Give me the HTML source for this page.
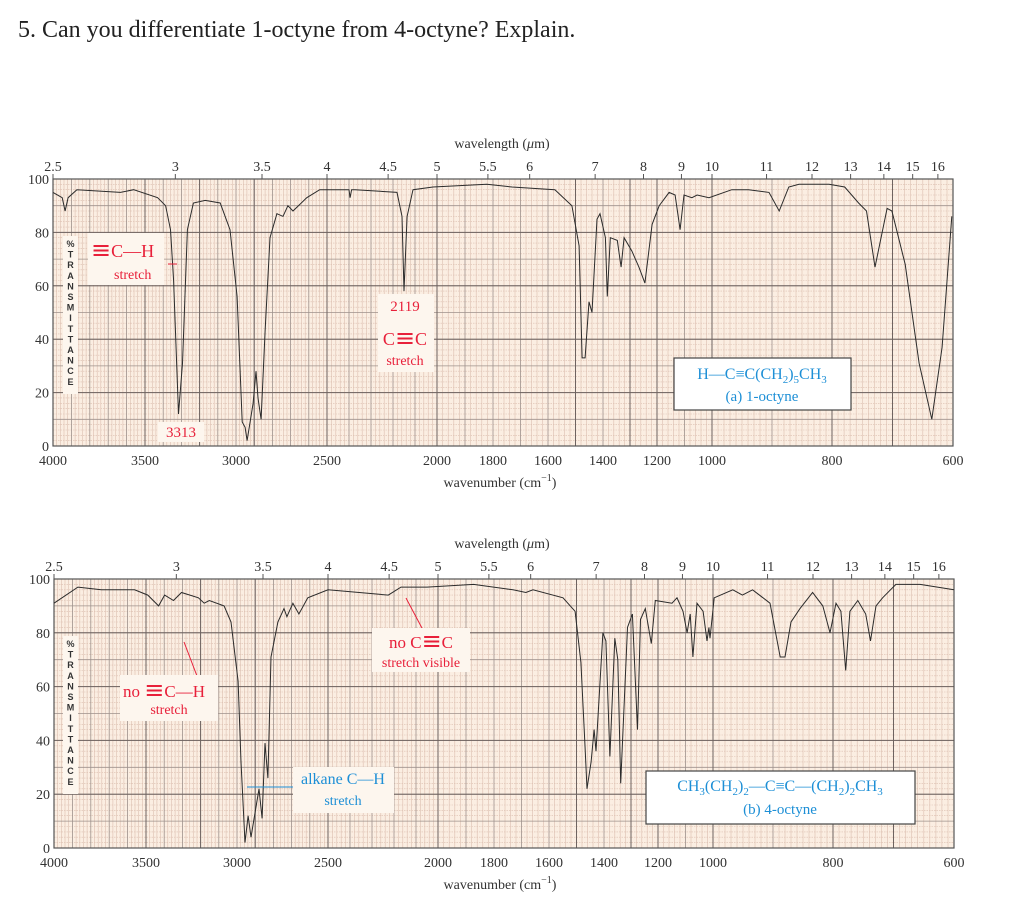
<!DOCTYPE html>
<html><head><meta charset="utf-8">
<style>
html,body{margin:0;padding:0;background:#fff;}
svg{display:block;font-family:"Liberation Serif",serif;}
</style></head>
<body>
<svg id="fig" width="1024" height="900" viewBox="0 0 1024 900" xmlns="http://www.w3.org/2000/svg">
<text x="18" y="37" font-size="24" fill="#222">5. Can you differentiate 1-octyne from 4-octyne? Explain.</text>
<g id="chartA"></g>
<g id="chartB"></g>
</svg>
<script>
// ---- data ----
const wnTicks = [4000,3500,3000,2500,2000,1800,1600,1400,1200,1000,800,600];
const wlTicks = [2.5,3,3.5,4,4.5,5,5.5,6,7,8,9,10,11,12,13,14,15,16];
const tTicks = [0,20,40,60,80,100];

const octyne1Wn = [4000,3950,3934,3918,3870,3633,3562,3431,3387,3360,3343,3316,3294,3267,3234,3169,3087,3033,2994,2966,2950,2939,2906,2890,2879,2862,2840,2813,2775,2742,2715,2687,2611,2540,2400,2395,2388,2372,2182,2159,2150,2136,2109,2018,1822,1731,1575,1513,1487,1476,1465,1451,1440,1422,1411,1391,1384,1373,1347,1333,1322,1293,1267,1245,1218,1192,1156,1134,1116,1102,1073,1054,1011,967,939,905,888,872,855,805,779,756,743,729,709,701,679,656,635,618,602];
const octyne1T  = [95,93,88,93,96,95,96,93,90,81,62,12,31,81,91,92,91,81,56,9,7,2,16,28,18,10,43,78,87,86,90,88,93,96,96,93,96,96,95,86,58,86,96,97,98,97,96,90,75,33,33,54,50,85,87,78,56,78,77,67,78,73,67,61,83,90,95,94,81,94,93,94,93,96,96,95,88,97,98,98,97,91,88,67,89,88,68,31,10,37,86];

const octyne4Wn = [4000,3870,3743,3562,3490,3431,3398,3349,3305,3212,3180,3152,3071,3033,2994,2978,2956,2939,2923,2901,2879,2862,2846,2830,2813,2775,2742,2726,2693,2660,2611,2500,2226,2168,2050,1873,1731,1684,1658,1549,1505,1484,1469,1462,1447,1436,1429,1404,1393,1378,1360,1349,1338,1313,1295,1276,1265,1247,1225,1210,1149,1131,1109,1094,1083,1073,1058,1036,1022,1015,1011,998,967,951,934,905,888,880,870,855,834,817,805,795,787,779,772,759,746,738,729,718,696,656,600];
const octyne4T  = [91,97,96,96,94,90,94,92,95,93,91,92,90,84,62,32,2,12,4,13,22,11,39,26,71,84,89,86,91,87,93,96,94,97,97,98,96,95,96,93,88,69,38,22,32,44,36,80,77,34,78,70,24,82,87,44,85,89,76,92,91,93,88,80,87,71,91,88,77,82,78,93,96,94,96,91,71,71,84,89,95,90,80,91,88,66,88,92,87,77,90,93,98,98,96];

// ---- scales ----
const xAnchors = [[4000,53],[3500,145],[3000,236],[2500,327],[2000,437],[1800,493],[1600,548],[1400,603],[1200,657],[1000,712],[800,832],[600,953]];
function X(wn, dx){
  for(let i=0;i<xAnchors.length-1;i++){
    const [a,xa]=xAnchors[i],[b,xb]=xAnchors[i+1];
    if(wn<=a && wn>=b) return xa+(a-wn)/(a-b)*(xb-xa)+dx;
  }
  return wn>4000?53+dx:953+dx;
}
const NS="http://www.w3.org/2000/svg";
function mk(parent,tag,attrs,text){
  const e=document.createElementNS(NS,tag);
  for(const k in attrs) e.setAttribute(k,attrs[k]);
  if(text!==undefined) e.textContent=text;
  parent.appendChild(e); return e;
}

function drawChart(g, cfg){
  const dx=cfg.dx, top=cfg.top, bot=cfg.bot;
  const Y = t => bot-(t/100)*(bot-top);
  const L=X(4000,dx), R=X(600,dx);
  const bg=mk(g,'rect',{x:L,y:top,width:R-L,height:bot-top,fill:'#fbeee2'});
  
  
  let d='';
  for(let w=3980; w>600; w-= (w>1000?20:10)){ if(w%100!==0){const x=X(w,dx).toFixed(1); d+=`M${x} ${top}V${bot}`;} }
  let p=mk(g,'path',{d,stroke:'#dcbfb0','stroke-width':0.6,fill:'none'});
   
  d='';
  for(let t=2;t<100;t+=2){ if(t%10!==0){const y=Y(t).toFixed(1); d+=`M${L} ${y}H${R}`;} }
  p=mk(g,'path',{d,stroke:'#dcbfb0','stroke-width':0.6,fill:'none','stroke-dasharray':'1.5 1'});
   
  d='';
  for(let w=3900; w>600; w-=100){ const x=X(w,dx).toFixed(1); d+=`M${x} ${top}V${bot}`; }
  for(let t=10;t<100;t+=10){ const y=Y(t).toFixed(1); d+=`M${L} ${y}H${R}`; }
  p=mk(g,'path',{d,stroke:'#9e918c','stroke-width':0.8,fill:'none'});
   
  d='';
  [3500,3200,2900,2500,2000,1500,1300,1200,1000,800,700].forEach(w=>{const x=X(w,dx).toFixed(1); d+=`M${x} ${top}V${bot}`;});
  [20,40,60,80].forEach(t=>{const y=Y(t).toFixed(1); d+=`M${L} ${y}H${R}`;});
  p=mk(g,'path',{d,stroke:'#6e6360','stroke-width':1,fill:'none'});
   
  const fr=mk(g,'rect',{x:L,y:top,width:R-L,height:bot-top,fill:'none',stroke:'#555','stroke-width':1.2});
   
  tTicks.forEach(t=>{
    const tx=mk(g,'text',{x:L-4,y:Y(t)+5,'font-size':14,'text-anchor':'end',fill:'#333'},String(t));
     
  });
  wnTicks.forEach(w=>{
    const tx=mk(g,'text',{x:X(w,dx),y:bot+19,'font-size':14,'text-anchor':'middle',fill:'#333'},String(w));
     
  });
  const xt=mk(g,'text',{x:500,y:bot+41,'font-size':14,'text-anchor':'middle',fill:'#333'});
   
  xt.innerHTML='wavenumber (cm<tspan dy="-6" font-size="10">−1</tspan><tspan dy="6">)</tspan>';
  wlTicks.forEach(u=>{
    const x=X(10000/u,dx);
    const tx=mk(g,'text',{x:x,y:top-8,'font-size':14,'text-anchor':'middle',fill:'#333'},String(u));
     
    const tk=mk(g,'line',{x1:x,x2:x,y1:top-5,y2:top,stroke:'#555'});
     
  });
  const wt=mk(g,'text',{x:502,y:top-31,'font-size':14,'text-anchor':'middle',fill:'#333'});
   
  wt.innerHTML='wavelength (<tspan font-style="italic">μ</tspan>m)';
  const lb=mk(g,'rect',{x:63,y:top+57,width:15,height:158,fill:'#fdf6ee'});
   
  const chars='%TRANSMITTANCE';
  for(let i=0;i<chars.length;i++){
    const c=mk(g,'text',{x:70.5,y:top+68+i*10.6,'font-size':9,'font-weight':'bold','text-anchor':'middle',fill:'#333','font-family':'Liberation Sans, sans-serif'},chars[i]);
     
  }
  const pts=cfg.wn.map((w,i)=>X(w,dx).toFixed(1)+','+Y(cfg.t[i]).toFixed(1)).join(' ');
  const pl=mk(g,'polyline',{points:pts,fill:'none',stroke:'#2b2b2b','stroke-width':1});
   
}

const gA=document.getElementById('chartA'), gB=document.getElementById('chartB');
drawChart(gA,{dx:0,top:179,bot:446,wn:octyne1Wn,t:octyne1T});
drawChart(gB,{dx:1,top:579,bot:848,wn:octyne4Wn,t:octyne4T});

function box(g,x,y,w,h,fill,stroke){
  return mk(g,'rect',{x,y,width:w,height:h,fill,stroke:stroke||'none','stroke-width':1.2});
}
const RED='#e8203a', BLUE='#1d8fd6';
const TB='<tspan font-size="24" font-family="DejaVu Sans, sans-serif" dy="1">≡</tspan><tspan dy="-1">';
let r=box(gA,88,233,76,52,'#fdf6ee');  
let t=mk(gA,'text',{x:91,y:257,'font-size':18,fill:RED});  
t.innerHTML=TB+'C—H</tspan>';
t=mk(gA,'text',{x:114,y:279,'font-size':14,fill:RED},'stretch');  
t=mk(gA,'line',{x1:168,x2:177,y1:264,y2:264,stroke:RED});  
r=box(gA,158,422,46,20,'#fdf6ee');  
t=mk(gA,'text',{x:181,y:437,'font-size':15,'text-anchor':'middle',fill:RED},'3313');  
r=box(gA,378,294,56,78,'#fdf6ee');  
t=mk(gA,'text',{x:405,y:311,'font-size':15,'text-anchor':'middle',fill:RED},'2119');  
t=mk(gA,'text',{x:405,y:345,'font-size':18,'text-anchor':'middle',fill:RED});  
t.innerHTML='C'+TB+'C</tspan>';
t=mk(gA,'text',{x:405,y:365,'font-size':14,'text-anchor':'middle',fill:RED},'stretch');  
r=box(gA,674,358,177,52,'#fff','#444');  
t=mk(gA,'text',{x:762,y:379,'font-size':16,'text-anchor':'middle',fill:BLUE});  
t.innerHTML='H—C≡C(CH<tspan dy="4" font-size="11">2</tspan><tspan dy="-4">)</tspan><tspan dy="4" font-size="11">5</tspan><tspan dy="-4">CH</tspan><tspan dy="4" font-size="11">3</tspan>';
t=mk(gA,'text',{x:762,y:401,'font-size':15,'text-anchor':'middle',fill:BLUE},'(a) 1-octyne');  
t=mk(gB,'line',{x1:184,y1:642,x2:197,y2:676,stroke:RED});  
r=box(gB,120,675,98,46,'#fdf6ee');  
t=mk(gB,'text',{x:123,y:697,'font-size':17,fill:RED});  
t.innerHTML='no '+TB+'C—H</tspan>';
t=mk(gB,'text',{x:169,y:714,'font-size':14,'text-anchor':'middle',fill:RED},'stretch');  
t=mk(gB,'line',{x1:406,y1:598,x2:423,y2:630,stroke:RED});  
r=box(gB,372,628,98,44,'#fdf6ee');  
t=mk(gB,'text',{x:421,y:648,'font-size':17,'text-anchor':'middle',fill:RED});  
t.innerHTML='no C'+TB+'C</tspan>';
t=mk(gB,'text',{x:421,y:667,'font-size':14,'text-anchor':'middle',fill:RED},'stretch visible');  
t=mk(gB,'line',{x1:247,y1:787,x2:294,y2:787,stroke:BLUE});  
r=box(gB,293,767,101,46,'#fdf6ee');  
t=mk(gB,'text',{x:343,y:784,'font-size':16,'text-anchor':'middle',fill:BLUE},'alkane C—H');  
t=mk(gB,'text',{x:343,y:805,'font-size':14,'text-anchor':'middle',fill:BLUE},'stretch');  
r=box(gB,646,771,269,53,'#fff','#444');  
t=mk(gB,'text',{x:780,y:791,'font-size':16,'text-anchor':'middle',fill:BLUE});  
t.innerHTML='CH<tspan dy="4" font-size="11">3</tspan><tspan dy="-4">(CH</tspan><tspan dy="4" font-size="11">2</tspan><tspan dy="-4">)</tspan><tspan dy="4" font-size="11">2</tspan><tspan dy="-4">—C≡C—(CH</tspan><tspan dy="4" font-size="11">2</tspan><tspan dy="-4">)</tspan><tspan dy="4" font-size="11">2</tspan><tspan dy="-4">CH</tspan><tspan dy="4" font-size="11">3</tspan>';
t=mk(gB,'text',{x:780,y:814,'font-size':15,'text-anchor':'middle',fill:BLUE},'(b) 4-octyne');  
</script>
</body></html>
